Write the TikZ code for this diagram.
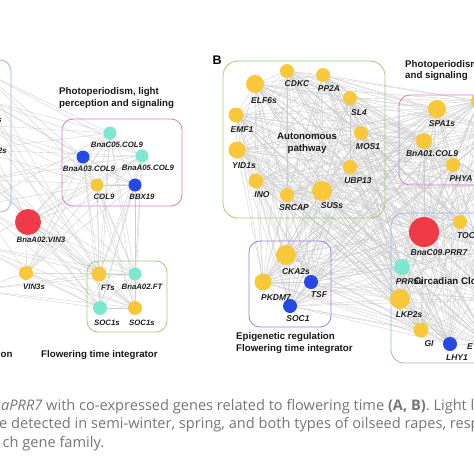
\documentclass[tikz,border=0pt]{standalone}
\usepackage{fontspec}
\setmainfont{Liberation Sans}
\newfontfamily\capfont{Open Sans}
\definecolor{ylw}{RGB}{248,200,58}
\definecolor{cyn}{RGB}{125,232,210}
\definecolor{blu}{RGB}{38,72,228}
\definecolor{rd}{RGB}{240,58,72}
\definecolor{pinkc}{RGB}{214,125,208}
\definecolor{greenc}{RGB}{160,204,120}
\definecolor{bluec}{RGB}{155,182,230}
\definecolor{purc}{RGB}{165,125,222}
\definecolor{edgec}{RGB}{205,205,205}
\definecolor{capc}{RGB}{118,118,118}
\pgfdeclarelayer{bg}
\pgfsetlayers{bg,main}
\begin{document}
\begin{tikzpicture}[x=1pt,y=-1pt,
  gn/.style={circle, inner sep=0pt, draw=none},
  edge/.style={draw=edgec, line width=0.35pt},
  gbox/.style={draw=#1, line width=0.8pt, rounded corners=11pt, inner sep=0pt},
  labA/.style={font=\bfseries\itshape\fontsize{7.8}{9}\selectfont, inner sep=0pt, anchor=base, text=black!88},
  labB/.style={font=\bfseries\itshape\fontsize{8.5}{10}\selectfont, inner sep=0pt, anchor=base, text=black!88},
  ttl/.style={font=\bfseries\fontsize{9.7}{11.6}\selectfont, inner sep=0pt, align=left, text=black!90},
  captxt/.style={font=\capfont\fontsize{14.6}{18.5}\selectfont, inner sep=0pt, text=capc, anchor=base west}
]
\begin{pgfonlayer}{bg}
\fill[white] (0,0) rectangle (474,474);
\end{pgfonlayer}
\useasboundingbox (0,0) rectangle (474,474);

% ---------------- Panel A ----------------
\node[gbox=bluec, minimum width=122pt, minimum height=152pt] (boxAl) at (-50,136) {};
\node[gbox=pinkc, minimum width=120pt, minimum height=87pt] (boxAp) at (122,162.5) {};
\node[gbox=greenc, minimum width=80pt, minimum height=71pt] (boxAg) at (127,296.5) {};

\node[ttl, anchor=north west] (tAp) at (59,87.5) {Photoperiodism, light\\perception and signaling};
\node[ttl, anchor=base west] (tAg) at (41,357) {Flowering time integrator};
\node[ttl, anchor=base west] (tAl) at (0.5,357) {on};

\node[gn, fill=cyn, minimum size=13pt] (a1) at (110,133) {};
\node[gn, fill=blu, minimum size=13pt] (a2) at (83,157) {};
\node[gn, fill=cyn, minimum size=13pt] (a3) at (142,156) {};
\node[gn, fill=ylw, minimum size=13pt] (a4) at (97,185) {};
\node[gn, fill=blu, minimum size=13pt] (a5) at (135,185) {};
\node[gn, fill=rd, minimum size=26pt] (a6) at (28,222) {};
\node[gn, fill=ylw, minimum size=14pt] (a7) at (26,273) {};
\node[gn, fill=ylw, minimum size=15pt] (a8) at (99,274) {};
\node[gn, fill=cyn, minimum size=13pt] (a9) at (135,274) {};
\node[gn, fill=cyn, minimum size=14pt] (a10) at (100,308) {};
\node[gn, fill=ylw, minimum size=14pt] (a11) at (135,308) {};

\coordinate (lA1) at (-20,70);
\coordinate (lA2) at (-15,100);
\coordinate (lA3) at (-20,125);
\coordinate (lA4) at (-25,150);
\coordinate (lA5) at (-15,180);
\coordinate (lA6) at (-20,205);
\coordinate (lA7) at (-25,245);
\coordinate (lA8) at (-25,290);

\node[labA] (a1l) at (117,147) {BnaC05.COL9};
\node[labA] (a2l) at (89,171) {BnaA03.COL9};
\node[labA] (a3l) at (148,170) {BnaA05.COL9};
\node[labA] (a4l) at (104,199) {COL9};
\node[labA] (a5l) at (142,199) {BBX19};
\node[labA] (a6l) at (41,242) {BnaA02.VIN3};
\node[labA] (a7l) at (34,289) {VIN3s};
\node[labA] (a8l) at (108,290) {FTs};
\node[labA] (a9l) at (142,289) {BnaA02.FT};
\node[labA] (a10l) at (107,325) {SOC1s};
\node[labA] (a11l) at (142,325) {SOC1s};
\node[labA, anchor=base east] (x1l) at (2,122) {s};
\node[labA, anchor=base east] (x2l) at (7,153) {2s};

% ---------------- Panel B ----------------
\node[font=\bfseries\fontsize{12.5}{14}\selectfont, inner sep=0pt, anchor=base west] (tB) at (212.5,64.5) {B};

\node[gbox=greenc, minimum width=162pt, minimum height=157pt, rounded corners=15pt] (boxBg) at (304,139.5) {};
\node[gbox=pinkc, minimum width=110pt, minimum height=90pt] (boxBp) at (454,140) {};
\node[gbox=bluec, minimum width=129pt, minimum height=150pt, rounded corners=13pt] (boxBb) at (455.5,288) {};
\node[gbox=purc, minimum width=82pt, minimum height=86pt] (boxBe) at (290,284) {};

\node[ttl, anchor=north west] (tBp) at (405,60) {Photoperiodism, light perception\\and signaling};
\node[ttl, align=center] (tBg) at (307,143) {Autonomous\\pathway};
\node[ttl, anchor=base west] (tBb) at (414,284) {Circadian Clock};
\node[ttl, anchor=north west] (tBe) at (236,332.5) {Epigenetic regulation\\Flowering time integrator};

\node[gn, fill=ylw, minimum size=14pt] (b1) at (287,71) {};
\node[gn, fill=ylw, minimum size=14pt] (b2) at (323,75) {};
\node[gn, fill=ylw, minimum size=18pt] (b3) at (255,84) {};
\node[gn, fill=ylw, minimum size=14pt] (b4) at (350,98) {};
\node[gn, fill=ylw, minimum size=15pt] (b5) at (236,115) {};
\node[gn, fill=ylw, minimum size=14pt] (b6) at (361,133) {};
\node[gn, fill=ylw, minimum size=17pt] (b7) at (237,150) {};
\node[gn, fill=ylw, minimum size=14pt] (b8) at (350,167) {};
\node[gn, fill=ylw, minimum size=15pt] (b9) at (256,181) {};
\node[gn, fill=ylw, minimum size=14pt] (b10) at (287,195) {};
\node[gn, fill=ylw, minimum size=20pt] (b11) at (322,191) {};
\node[gn, fill=ylw, minimum size=18pt] (p1) at (437,109) {};
\node[gn, fill=ylw, minimum size=16pt] (p2) at (479,101) {};
\node[gn, fill=ylw, minimum size=16pt] (p3) at (424,141) {};
\node[gn, fill=ylw, minimum size=14pt] (p4) at (453,165) {};
\node[gn, fill=rd, minimum size=30pt] (c1) at (424,232) {};
\node[gn, fill=ylw, minimum size=14pt] (c2) at (460,222) {};
\node[gn, fill=cyn, minimum size=16pt] (c3) at (402,267) {};
\node[gn, fill=ylw, minimum size=20pt] (c4) at (400,299) {};
\node[gn, fill=ylw, minimum size=15pt] (c5) at (421,330) {};
\node[gn, fill=blu, minimum size=14pt] (c6) at (450,344) {};
\node[gn, fill=ylw, minimum size=20pt] (e1) at (286,255) {};
\node[gn, fill=ylw, minimum size=17pt] (e2) at (263,282) {};
\node[gn, fill=blu, minimum size=14pt] (e3) at (311,282) {};
\node[gn, fill=blu, minimum size=14pt] (e4) at (290,306) {};

\coordinate (r1) at (495,130);
\coordinate (r2) at (495,185);
\coordinate (r3) at (495,250);
\coordinate (r4) at (495,300);
\coordinate (r5) at (490,345);

\node[labB] (b1l) at (297,86) {CDKC};
\node[labB] (b2l) at (329,91) {PP2A};
\node[labB] (b3l) at (264,103) {ELF6s};
\node[labB] (b4l) at (359,115) {SL4};
\node[labB] (b5l) at (242,132) {EMF1};
\node[labB] (b6l) at (368,149) {MOS1};
\node[labB] (b7l) at (244,168) {YID1s};
\node[labB] (b8l) at (358,183) {UBP13};
\node[labB] (b9l) at (262,197) {INO};
\node[labB] (b10l) at (294,210) {SRCAP};
\node[labB] (b11l) at (332,208) {SUSs};
\node[labB] (p1l) at (442,126) {SPA1s};
\node[labB] (p3l) at (432,156) {BnA01.COL9};
\node[labB] (p4l) at (461,181) {PHYA};
\node[labB] (c1l) at (439,255) {BnaC09.PRR7};
\node[labB, anchor=base west] (c2l) at (457,238) {TOC1};
\node[labB] (c3l) at (409.5,284) {PRR5s};
\node[labB] (c4l) at (409,317) {LKP2s};
\node[labB] (c5l) at (429,346) {GI};
\node[labB] (c6l) at (457,360) {LHY1};
\node[labB, anchor=base west] (c7l) at (467,349) {E};
\node[labB] (e1l) at (296,274) {CKA2s};
\node[labB] (e2l) at (276,300) {PKDM7};
\node[labB] (e3l) at (319,297) {TSF};
\node[labB] (e4l) at (298,321) {SOC1};

% ---------------- Caption ----------------
\node[captxt] (cap1) at (1,410) {\itshape aPRR7\upshape{} with co-expressed genes related to flowering time \textbf{(A, B)}. Light l};
\node[captxt] (cap2) at (-1,428.5) {e detected in semi-winter, spring, and both types of oilseed rapes, resp};
\node[captxt] (cap3) at (2.5,447) {ch gene family.};

% ---------------- Edges ----------------
\begin{pgfonlayer}{bg}
\def\Alist{a1,a2,a3,a4,a5,a6,a7,a8,a9,a10,a11}
\foreach \u [count=\i] in \Alist {
  \foreach \v [count=\j] in \Alist {
    \ifnum\j>\i \draw[edge] (\u.center) -- (\v.center); \fi
  }
}
\foreach \u/\v in {lA1/a1,lA1/a2,lA1/a3,lA1/a4,lA1/a8,
  lA2/a1,lA2/a2,lA2/a3,lA2/a5,lA2/a8,lA2/a10,
  lA3/a1,lA3/a2,lA3/a4,lA3/a5,lA3/a9,lA3/a11,lA3/a6,
  lA4/a1,lA4/a3,lA4/a4,lA4/a8,lA4/a10,lA4/a6,
  lA5/a2,lA5/a3,lA5/a5,lA5/a8,lA5/a9,lA5/a11,
  lA6/a1,lA6/a4,lA6/a8,lA6/a10,lA6/a11,lA6/a7,
  lA7/a7,lA7/a8,lA7/a10,lA7/a11,lA7/a9,lA7/a3,
  lA8/a7,lA8/a8,lA8/a10,lA8/a11,lA8/a9} {
  \draw[edge] (\u.center) -- (\v.center);
}
\def\Blist{b1,b2,b3,b4,b5,b6,b7,b8,b9,b10,b11,p1,p2,p3,p4,c1,c2,c3,c4,c5,c6,e1,e2,e3,e4,r1,r2,r3,r4,r5}
\foreach \u [count=\i] in \Blist {
  \foreach \v [count=\j] in \Blist {
    \ifnum\j>\i \draw[edge] (\u.center) -- (\v.center); \fi
  }
}
\end{pgfonlayer}
\end{tikzpicture}
\end{document}
